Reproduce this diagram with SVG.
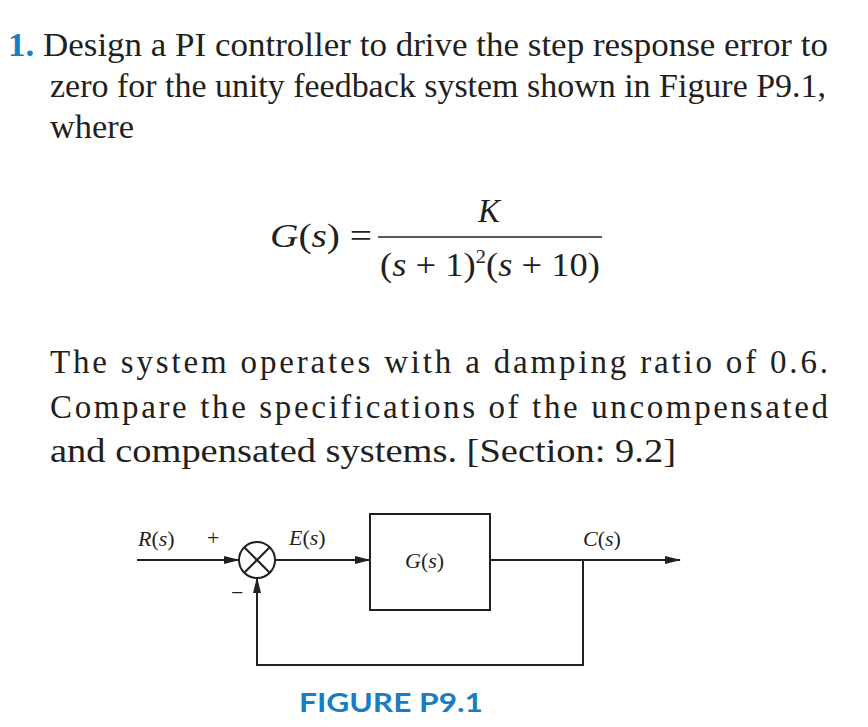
<svg xmlns="http://www.w3.org/2000/svg" width="868" height="727" viewBox="0 0 868 727">
<style>
.t{font-family:"Liberation Serif",serif;font-size:33px;fill:#231f20}
.l{font-family:"Liberation Serif",serif;font-size:22px;fill:#231f20}
.c{stroke:#231f20;stroke-width:2;fill:none}
</style>
<defs><marker id="a" markerWidth="16" markerHeight="8" refX="15" refY="4" orient="auto" markerUnits="userSpaceOnUse"><path d="M0,0L16,4L0,8z" fill="#231f20"/></marker></defs>
<rect width="868" height="727" fill="#fff"/>
<text class="t" x="8" y="56" textLength="820" lengthAdjust="spacingAndGlyphs"><tspan fill="#1a7dc1" font-weight="bold">1.</tspan> Design a PI controller to drive the step response error to</text>
<text class="t" x="50" y="97" textLength="776" lengthAdjust="spacingAndGlyphs">zero for the unity feedback system shown in Figure P9.1,</text>
<text class="t" x="50" y="138" textLength="84" lengthAdjust="spacingAndGlyphs">where</text>
<text class="t" x="270" y="247" textLength="102" lengthAdjust="spacingAndGlyphs"><tspan font-style="italic">G</tspan>(<tspan font-style="italic">s</tspan>) =</text>
<text class="t" x="478" y="222" font-style="italic">K</text>
<line x1="378" y1="237" x2="602" y2="237" stroke="#231f20" stroke-width="1.5"/>
<text class="t" x="380" y="276" textLength="220" lengthAdjust="spacingAndGlyphs">(<tspan font-style="italic">s</tspan> + 1)<tspan font-size="19" dy="-13">2</tspan><tspan dy="13">(</tspan><tspan font-style="italic">s</tspan> + 10)</text>
<text class="t" x="50" y="373" textLength="778" lengthAdjust="spacing">The system operates with a damping ratio of 0.6.</text>
<text class="t" x="50" y="418" textLength="778" lengthAdjust="spacing">Compare the specifications of the uncompensated</text>
<text class="t" x="50" y="462" textLength="626" lengthAdjust="spacingAndGlyphs">and compensated systems. [Section: 9.2]</text>
<g id="sum"><circle cx="257" cy="560" r="18" class="c"/><path d="M244,547L270,573M270,547L244,573" class="c"/></g>
<g id="G"><rect x="370" y="514" width="120" height="96" class="c" stroke-width="2.5"/><text class="l" x="405" y="568"><tspan font-style="italic">G</tspan>(<tspan font-style="italic">s</tspan>)</text></g>
<g id="connectors">
<line x1="137" y1="560" x2="239" y2="560" class="c" marker-end="url(#a)"/>
<line x1="275" y1="560" x2="370" y2="560" class="c" marker-end="url(#a)"/>
<line x1="490" y1="560" x2="680" y2="560" class="c" marker-end="url(#a)"/>
<polyline points="583,560 583,665 257,665 257,578" class="c" marker-end="url(#a)"/>
</g>
<g id="labels">
<text class="l" x="138" y="546"><tspan font-style="italic">R</tspan>(<tspan font-style="italic">s</tspan>)</text>
<text class="l" x="207" y="545">+</text>
<text class="l" x="289" y="545"><tspan font-style="italic">E</tspan>(<tspan font-style="italic">s</tspan>)</text>
<text class="l" x="583" y="546"><tspan font-style="italic">C</tspan>(<tspan font-style="italic">s</tspan>)</text>
<text class="l" x="231" y="600">−</text>
</g>
<text x="299" y="712" font-family="Lato,'Open Sans',sans-serif" font-weight="bold" font-size="26" fill="#1a7dc1" textLength="184" lengthAdjust="spacingAndGlyphs">FIGURE P9.1</text>
</svg>
